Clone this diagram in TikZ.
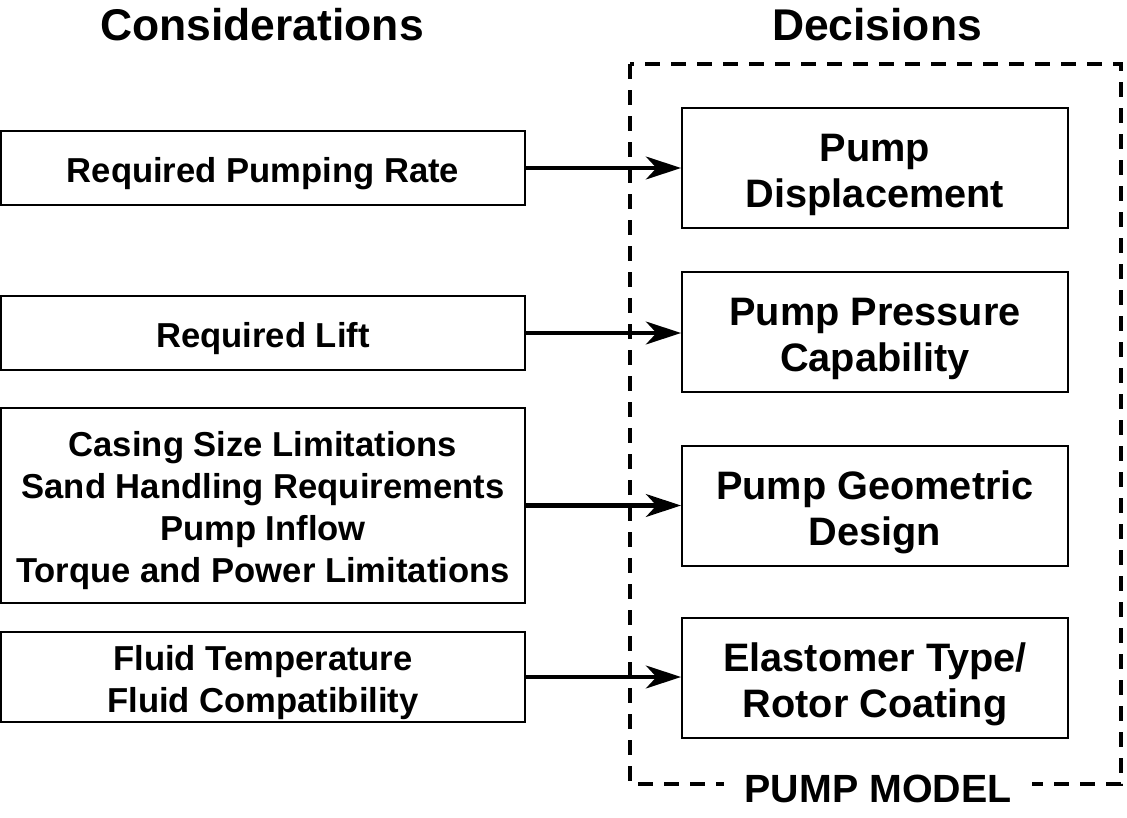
\documentclass[tikz,border=0pt]{standalone}
\usepackage{fontspec}
\setmainfont{Liberation Sans}
\usetikzlibrary{arrows.meta}

\begin{document}
\begin{tikzpicture}[x=0.02cm, y=-0.02cm, every node/.style={font=\bfseries},
	cons/.style={draw, line width=1.1pt, minimum width=10.48cm, align=center, inner sep=0pt, text depth=0pt, font=\bfseries\fontsize{19.7}{23.9}\selectfont},
	dec/.style={draw, line width=1.1pt, minimum width=7.72cm, minimum height=2.4cm, align=center, inner sep=0pt, text height=45pt, text depth=0pt, font=\bfseries\fontsize{22.6}{26.2}\selectfont},
	feed/.style={line width=2.3pt, -{Stealth[length=20pt, width=13pt, inset=6pt]}}]
	\useasboundingbox (0,0) rectangle (1127,818);
	% headings
	\node[font=\bfseries\fontsize{25.3}{30}\selectfont] (hcons) at (262,25) {Considerations};
	\node[font=\bfseries\fontsize{25.3}{30}\selectfont] (hdec) at (877,25) {Decisions};
	% pump model frame
	\draw[line width=2.2pt, dash pattern=on 8.5pt off 6.3pt] (630,64) rectangle (1121,784);
	\node[fill=white, inner xsep=12pt, inner ysep=1pt, font=\bfseries\fontsize{22.4}{26}\selectfont] (model) at (878,789) {PUMP MODEL};
	% considerations
	\node[cons, minimum height=1.48cm, text height=16pt] (c1) at (263,168) {Required Pumping Rate};
	\node[cons, minimum height=1.48cm, text height=16pt] (c2) at (263,333) {Required Lift};
	\node[cons, minimum height=3.9cm, text height=88pt] (c3) at (263,505.5) {Casing Size Limitations\\Sand Handling Requirements\\Pump Inflow\\Torque and Power Limitations};
	\node[cons, minimum height=1.8cm, text height=40.8pt] (c4) at (263,677) {Fluid Temperature\\Fluid Compatibility};
	% decisions
	\node[dec] (d1) at (875,168) {Pump\\Displacement};
	\node[dec] (d2) at (875,332) {Pump Pressure\\Capability};
	\node[dec] (d3) at (875,506) {Pump Geometric\\Design};
	\node[dec] (d4) at (875,678) {Elastomer Type/\\Rotor Coating};
	% links
	\foreach \i in {1,...,4}
		\draw[feed] (c\i.east) -- (c\i.east -| d\i.west);
\end{tikzpicture}
\end{document}
